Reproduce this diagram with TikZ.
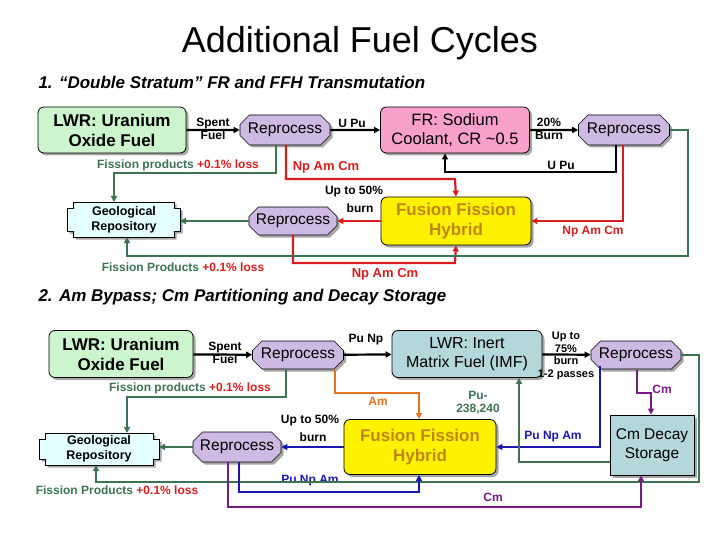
\documentclass[tikz,border=0pt]{standalone}
\usepackage{fontspec}
\setmainfont{Liberation Sans}
\usetikzlibrary{shapes.misc,shadows,arrows.meta,calc}
\definecolor{gfill}{RGB}{205,245,205}
\definecolor{pfill}{RGB}{250,160,205}
\definecolor{lav}{RGB}{205,185,225}
\definecolor{tfill}{RGB}{180,215,220}
\definecolor{rfill}{RGB}{228,255,255}
\definecolor{gline}{RGB}{60,115,80}
\definecolor{rline}{RGB}{215,30,30}
\definecolor{bline}{RGB}{25,25,175}
\definecolor{pline}{RGB}{120,25,135}
\definecolor{oline}{RGB}{225,115,35}
\definecolor{gold}{RGB}{190,135,20}
\tikzset{
 sh/.style={drop shadow={shadow xshift=2.5pt,shadow yshift=-2.5pt,fill=gray!70,opacity=1}},
 bigbox/.style={draw,rounded corners=6pt,line width=0.8pt,sh,align=center,font=\bfseries\fontsize{17}{20}\selectfont},
 reproc/.style={draw,fill=lav,chamfered rectangle,chamfered rectangle xsep=6pt,chamfered rectangle corners=all,line width=0.6pt,sh,inner sep=1pt,font=\fontsize{15.5}{17}\selectfont},
 fus/.style={draw,fill=yellow,rounded corners=6pt,line width=0.8pt,sh,align=center,font=\bfseries\fontsize{17}{20}\selectfont,text=gold},
 lbl/.style={font=\bfseries\fontsize{12}{13}\selectfont,align=center,inner sep=1pt},
 arr/.style={-{Triangle[length=6pt,width=6pt]},line width=2.2pt},
 gl/.style={gline,line width=2pt},
}
\begin{document}
\begin{tikzpicture}[x=1pt,y=-1pt]
\useasboundingbox (0,0) rectangle (720,540);
\node (title) at (360,43) {\fontsize{36}{40}\selectfont Additional Fuel Cycles};
\node[anchor=west] (h1) at (35,82) {\bfseries\itshape\fontsize{17}{19}\selectfont 1. “Double Stratum” FR and FFH Transmutation};
\node[anchor=west] (h2) at (35,297) {\bfseries\itshape\fontsize{17}{19}\selectfont 2. Am Bypass; Cm Partitioning and Decay Storage};

% ---------- Part 1
\node[bigbox,fill=gfill,minimum width=148pt,minimum height=46pt] (lwr1) at (112,130) {LWR: Uranium\\Oxide Fuel};
\node[reproc,minimum width=90pt,minimum height=30pt] (r1) at (285,130) {Reprocess};
\node[bigbox,fill=pfill,minimum width=149pt,minimum height=46pt,font=\fontsize{16.5}{19.5}\selectfont] (fr) at (455,130) {FR: Sodium\\Coolant, CR \textasciitilde0.5};
\node[reproc,minimum width=91pt,minimum height=30pt] (r2) at (624,130) {Reprocess};
\node[fus,minimum width=150pt,minimum height=48pt] (ff1) at (456,221) {Fusion Fission\\Hybrid};
\node[reproc,minimum width=88pt,minimum height=28pt] (r3) at (293,221) {Reprocess};
\path[draw,fill=rfill,line width=0.6pt,sh] (73,202) -- (174,202) -- (174,208) -- (180,208) -- (180,231) -- (174,231) -- (174,237) -- (73,237) -- (73,231) -- (67,231) -- (67,208) -- (73,208) -- cycle;
\node[align=center,font=\bfseries\fontsize{12.5}{15}\selectfont] (geo1) at (124,220) {Geological\\Repository};

\node[lbl] (sf1) at (213,129) {Spent\\Fuel};
\node[lbl] (up1) at (352,123) {U Pu};
\node[lbl] (b1) at (549,129) {20\%\\Burn};
\node[lbl] (up2) at (561,165) {U Pu};
\node[lbl,gline] (fp1) at (178,165) {Fission products \textcolor{rline}{+0.1\% loss}};
\node[lbl,rline,font=\bfseries\fontsize{13}{14}\selectfont] (n1) at (326,167) {Np Am Cm};
\node[lbl] (u50a) at (354,192) {Up to 50\%};
\node[lbl] (bu1) at (360,208) {burn};
\node[lbl,rline] (n2) at (593,232) {Np Am Cm};
\node[lbl,rline,font=\bfseries\fontsize{13}{14}\selectfont] (n3) at (385,274) {Np Am Cm};
\node[lbl,gline] (fp2) at (183,267) {Fission Products \textcolor{rline}{+0.1\% loss}};

\draw[arr] (lwr1) -- (r1);
\draw[arr] (r1) -- (fr);
\draw[arr] (fr) -- (r2);
\draw[arr] (616,145) |- (445,172) -- (fr.south -| 445,0);
\draw[arr,gl] (276,145) |- (114,173) -- (114,202);
\draw[arr,rline] (286,145) |- (455,179) -- (ff1.north);
\draw[arr,rline] (623,145) |- (ff1.east);
\draw[arr,rline] (ff1.west) -- (r3.east);
\draw[arr,gl] (r3.west) -- (180,221);
\draw[arr,rline] (293,235) |- (455,263) -- (ff1.south);
\draw[arr,gl] (r2.east) -| (688,256) -| (127,237);

% ---------- Part 2
\node[bigbox,fill=gfill,minimum width=144pt,minimum height=47pt] (lwr2) at (121,354) {LWR: Uranium\\Oxide Fuel};
\node[reproc,minimum width=91pt,minimum height=28pt] (r4) at (298,355) {Reprocess};
\node[bigbox,fill=tfill,minimum width=150pt,minimum height=47pt,font=\fontsize{16}{19.5}\selectfont] (imf) at (467,354) {LWR: Inert\\Matrix Fuel (IMF)};
\node[reproc,minimum width=90pt,minimum height=28pt] (r5) at (636,355) {Reprocess};
\node[draw,fill=tfill,line width=0.8pt,sh,minimum width=84pt,minimum height=60pt,align=center,font=\fontsize{15.5}{19}\selectfont] (cm) at (652,445) {Cm Decay\\Storage};
\node[fus,minimum width=152pt,minimum height=55pt] (ff2) at (420,447) {Fusion Fission\\Hybrid};
\node[reproc,minimum width=87pt,minimum height=30pt] (r6) at (237,447) {Reprocess};
\path[draw,fill=rfill,line width=0.6pt,sh] (45,433) -- (153,433) -- (153,439) -- (159,439) -- (159,459) -- (153,459) -- (153,465) -- (45,465) -- (45,459) -- (39,459) -- (39,439) -- (45,439) -- cycle;
\node[align=center,font=\bfseries\fontsize{12.5}{15}\selectfont] (geo2) at (99,449) {Geological\\Repository};

\node[lbl] (sf2) at (225,353) {Spent\\Fuel};
\node[lbl] (pn) at (366,340) {Pu Np};
\node[lbl,font=\bfseries\fontsize{11}{12.5}\selectfont] (u75) at (566,356) {Up to\\75\%\\burn\\1-2 passes};
\node[lbl,pline] (cm1) at (662,389) {Cm};
\node[lbl,oline] (am) at (378,401) {Am};
\node[lbl,gline] (pu) at (478,403) {Pu-\\238,240};
\node[lbl,bline] (pna1) at (553,437) {Pu Np Am};
\node[lbl,gline] (fp3) at (190,388) {Fission products \textcolor{rline}{+0.1\% loss}};
\node[lbl] (u50b) at (310,421) {Up to 50\%};
\node[lbl] (bu2) at (313,437) {burn};
\node[lbl,bline] (pna2) at (310,481) {Pu Np Am};
\node[lbl,pline] (cm2) at (493,497) {Cm};
\node[lbl,gline] (fp4) at (117,490) {Fission Products \textcolor{rline}{+0.1\% loss}};

\draw[arr] (lwr2) -- (r4);
\draw[arr] (r4) -- (imf);
\draw[arr] (imf) -- (r5);
\draw[arr,pline] (637,370) |- (651,393) -- (cm.north -| 651,0);
\draw[arr,bline] (600,366) |- (ff2.east);
\draw[arr,gl] (cm.west |- 0,462) -| (imf.south -| 519,0);
\draw[arr,gl] (r5.east) -| (699,482) -| (96,465);
\draw[arr,oline] (335,370) |- (419,393) -- (ff2.north -| 419,0);
\draw[arr,bline] (ff2.west) -- (r6.east);
\draw[arr,gl] (r6.west) -- (159,447);
\draw[arr,gl] (286,370) |- (127,397) -- (127,433);
\draw[arr,bline] (239,462) |- (419,492) -- (ff2.south -| 419,0);
\draw[arr,pline] (228,462) |- (641,507) -- (cm.south -| 641,0);
\end{tikzpicture}
\end{document}
